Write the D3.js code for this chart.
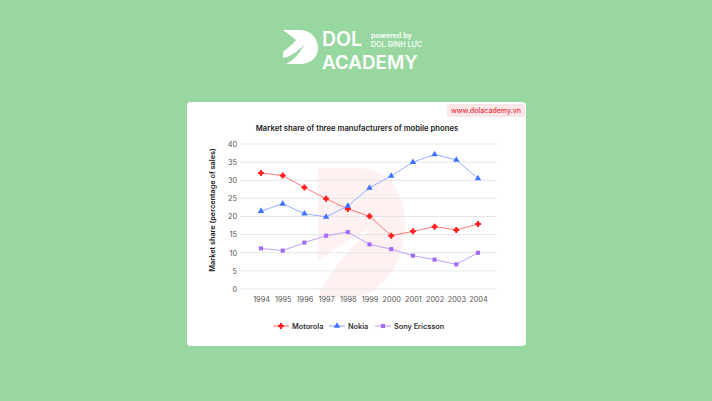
<!DOCTYPE html>
<html><head><meta charset="utf-8">
<script src="https://cdn.jsdelivr.net/npm/d3@7"></script>
<style>html,body{margin:0;padding:0;background:#98d8a0;}svg{display:block;font-family:Inter,"Noto Sans",sans-serif;}</style>
</head><body>
<svg id="c" width="712" height="401"></svg>
<script>
const years = ["1994","1995","1996","1997","1998","1999","2000","2001","2002","2003","2004"];
const motorola = [32.0,31.3,28.0,24.9,22.1,20.1,14.7,15.9,17.2,16.3,17.9];
const nokia = [21.5,23.5,20.8,19.9,22.9,27.9,31.2,35.0,37.1,35.6,30.5];
const sonyEricsson = [11.2,10.6,12.8,14.7,15.7,12.3,11.0,9.2,8.1,6.8,10.0];
const yTicks = [0,5,10,15,20,25,30,35,40];
const seriesNames = ["Motorola","Nokia","Sony Ericsson"];

const svg = d3.select("#c");
svg.append("rect").attr("width",712).attr("height",401).attr("fill","#98d8a0");

// Logo
const logo = svg.append("g");
logo.append("path").attr("fill","#fff")
  .attr("d","M283,30 L300,30 C312,30 318,40 318,48 C318,57 311,64 300,64 L286,64 C294,60 300,53 304,45 C296,53 289,57 283,58 Z M283,30 L283,52 C288,48 293,44 296,40 Z");
logo.append("text").attr("x",322).attr("y",46.3).attr("fill","#fff").attr("font-weight",600).attr("font-size",19.5).text("DOL");
logo.append("text").attr("x",322).attr("y",68.6).attr("fill","#fff").attr("font-weight",600).attr("font-size",18.8).text("ACADEMY");
const pw = logo.append("text").attr("fill","#fff").attr("font-size",7.2);
pw.append("tspan").attr("x",371).attr("y",38).attr("font-weight",600).text("powered by");
pw.append("tspan").attr("x",371).attr("y",47).attr("font-weight",500).text("DOL ĐINH LỰC");

// Card
svg.append("rect").attr("x",187).attr("y",102).attr("width",339).attr("height",244).attr("rx",4).attr("fill","#fff");
svg.append("rect").attr("x",447).attr("y",104).attr("width",78).attr("height",13).attr("rx",3).attr("fill","#fde6e8");
svg.append("text").attr("x",486).attr("y",113.3).attr("text-anchor","middle").attr("fill","#e8323c").attr("font-size",7).attr("font-weight",500).text("www.dolacademy.vn");

// Title
svg.append("text").attr("x",357).attr("y",131).attr("text-anchor","middle").attr("fill","#222").attr("font-size",7.7).attr("font-weight",600).text("Market share of three manufacturers of mobile phones");

const x = d3.scalePoint().domain(years).range([261,478]);
const y = d3.scaleLinear().domain([0,40]).range([289,144]);

// watermark
svg.append("path").attr("fill","#e83a3a").attr("opacity",0.07)
  .attr("d","M318,168 L360,168 C392,170 405,195 405,225 C405,262 382,296 352,297 L318,297 C330,270 352,245 372,228 C352,236 330,252 318,262 Z");

// grid
const gridG = svg.append("g");
yTicks.forEach(t=>{
  gridG.append("line").attr("x1",240).attr("x2",497).attr("y1",y(t)).attr("y2",y(t)).attr("stroke","#e6e6e6").attr("stroke-width",1);
});
const yAxis = d3.axisLeft(y).tickValues(yTicks).tickSize(0).tickPadding(0);
const ya = svg.append("g").attr("transform","translate(237,0)").call(yAxis);
ya.select(".domain").remove();
ya.selectAll("text").attr("fill","#555").attr("font-size",7.3).attr("font-family","Inter,'Noto Sans',sans-serif").attr("dy","0.32em");

const xAxis = d3.axisBottom(x).tickSize(0).tickPadding(0);
const xa = svg.append("g").attr("transform","translate(0,297)").call(xAxis);
xa.select(".domain").remove();
xa.selectAll("text").attr("fill","#555").attr("font-size",7.3).attr("font-family","Inter,'Noto Sans',sans-serif").attr("dy","0.71em");

svg.append("text").attr("transform","translate(215,210) rotate(-90)").attr("text-anchor","middle")
  .attr("fill","#222").attr("font-size",7.3).attr("font-weight",600).text("Market share (percentage of sales)");

const cfg = [
  {name:seriesNames[0], data:motorola, line:"#ff6b6b", mark:"#ff1f1f", shape:d3.symbolCross, size:20, extra:true},
  {name:seriesNames[1], data:nokia, line:"#86a6ff", mark:"#3f73ff", shape:d3.symbolTriangle, size:18},
  {name:seriesNames[2], data:sonyEricsson, line:"#b994f7", mark:"#a26cf4", shape:d3.symbolSquare, size:17}
];
const lineGen = d3.line().x((d,i)=>x(years[i])).y(d=>y(d));
function marker(g, s){
  g.append("path").attr("d",d3.symbol().type(s.shape).size(s.size)).attr("fill",s.mark);
  if(s.extra) g.append("circle").attr("r",2.1).attr("fill",s.mark);
}
cfg.forEach(s=>{
  svg.append("path").datum(s.data).attr("d",lineGen).attr("fill","none").attr("stroke",s.line).attr("stroke-width",0.9);
  svg.append("g").selectAll("g").data(s.data).join("g")
    .attr("transform",(d,i)=>`translate(${x(years[i])},${y(d)})`)
    .each(function(){ marker(d3.select(this), s); });
});

// legend
const legX = [273,329,375];
cfg.forEach((s,i)=>{
  const g = svg.append("g").attr("transform",`translate(${legX[i]},326)`);
  g.append("line").attr("x1",0).attr("x2",16).attr("stroke",s.line).attr("stroke-width",1);
  marker(g.append("g").attr("transform","translate(8,0)"), s);
  g.append("text").attr("x",19).attr("y",2.6).attr("font-size",7.3).attr("font-weight",600).attr("fill","#333").text(s.name);
});
</script>
</body></html>
